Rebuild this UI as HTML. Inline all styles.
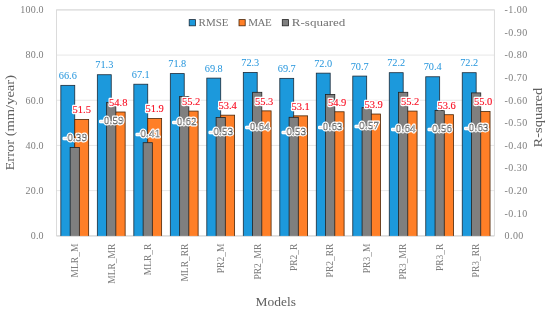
<!DOCTYPE html>
<html><head><meta charset="utf-8"><title>Model errors chart</title>
<style>html,body{margin:0;padding:0;background:#fff;}svg{display:block;}</style></head>
<body>
<svg width="550" height="311" viewBox="0 0 550 311" font-family='"Liberation Serif", "Noto Serif CJK SC", serif'>
<rect width="550" height="311" fill="#fff"/>
<line x1="56.50" y1="9.90" x2="494.40" y2="9.90" stroke="#e4e4e4" stroke-width="0.9"/>
<line x1="56.50" y1="55.08" x2="494.40" y2="55.08" stroke="#e4e4e4" stroke-width="0.9"/>
<line x1="56.50" y1="100.26" x2="494.40" y2="100.26" stroke="#e4e4e4" stroke-width="0.9"/>
<line x1="56.50" y1="145.44" x2="494.40" y2="145.44" stroke="#e4e4e4" stroke-width="0.9"/>
<line x1="56.50" y1="190.62" x2="494.40" y2="190.62" stroke="#e4e4e4" stroke-width="0.9"/>
<line x1="56.50" y1="235.80" x2="494.40" y2="235.80" stroke="#e4e4e4" stroke-width="0.9"/>
<rect x="56.50" y="9.90" width="437.90" height="225.90" fill="none" stroke="#d8d8d8" stroke-width="0.9"/>
<rect x="60.85" y="85.35" width="13.90" height="151.65" fill="#1c99dc" stroke="#1b2a38" stroke-width="0.8"/>
<rect x="74.75" y="119.46" width="13.90" height="117.54" fill="#ff7f27" stroke="#4a2608" stroke-width="0.8"/>
<rect x="97.34" y="74.73" width="13.90" height="162.27" fill="#1c99dc" stroke="#1b2a38" stroke-width="0.8"/>
<rect x="111.24" y="112.01" width="13.90" height="124.99" fill="#ff7f27" stroke="#4a2608" stroke-width="0.8"/>
<rect x="133.83" y="84.22" width="13.90" height="152.78" fill="#1c99dc" stroke="#1b2a38" stroke-width="0.8"/>
<rect x="147.73" y="118.56" width="13.90" height="118.44" fill="#ff7f27" stroke="#4a2608" stroke-width="0.8"/>
<rect x="170.32" y="73.60" width="13.90" height="163.40" fill="#1c99dc" stroke="#1b2a38" stroke-width="0.8"/>
<rect x="184.22" y="111.10" width="13.90" height="125.90" fill="#ff7f27" stroke="#4a2608" stroke-width="0.8"/>
<rect x="206.81" y="78.12" width="13.90" height="158.88" fill="#1c99dc" stroke="#1b2a38" stroke-width="0.8"/>
<rect x="220.71" y="115.17" width="13.90" height="121.83" fill="#ff7f27" stroke="#4a2608" stroke-width="0.8"/>
<rect x="243.30" y="72.47" width="13.90" height="164.53" fill="#1c99dc" stroke="#1b2a38" stroke-width="0.8"/>
<rect x="257.20" y="110.88" width="13.90" height="126.12" fill="#ff7f27" stroke="#4a2608" stroke-width="0.8"/>
<rect x="279.80" y="78.35" width="13.90" height="158.65" fill="#1c99dc" stroke="#1b2a38" stroke-width="0.8"/>
<rect x="293.70" y="115.85" width="13.90" height="121.15" fill="#ff7f27" stroke="#4a2608" stroke-width="0.8"/>
<rect x="316.29" y="73.15" width="13.90" height="163.85" fill="#1c99dc" stroke="#1b2a38" stroke-width="0.8"/>
<rect x="330.19" y="111.78" width="13.90" height="125.22" fill="#ff7f27" stroke="#4a2608" stroke-width="0.8"/>
<rect x="352.78" y="76.09" width="13.90" height="160.91" fill="#1c99dc" stroke="#1b2a38" stroke-width="0.8"/>
<rect x="366.68" y="114.04" width="13.90" height="122.96" fill="#ff7f27" stroke="#4a2608" stroke-width="0.8"/>
<rect x="389.27" y="72.70" width="13.90" height="164.30" fill="#1c99dc" stroke="#1b2a38" stroke-width="0.8"/>
<rect x="403.17" y="111.10" width="13.90" height="125.90" fill="#ff7f27" stroke="#4a2608" stroke-width="0.8"/>
<rect x="425.76" y="76.77" width="13.90" height="160.23" fill="#1c99dc" stroke="#1b2a38" stroke-width="0.8"/>
<rect x="439.66" y="114.72" width="13.90" height="122.28" fill="#ff7f27" stroke="#4a2608" stroke-width="0.8"/>
<rect x="462.25" y="72.70" width="13.90" height="164.30" fill="#1c99dc" stroke="#1b2a38" stroke-width="0.8"/>
<rect x="476.15" y="111.55" width="13.90" height="125.45" fill="#ff7f27" stroke="#4a2608" stroke-width="0.8"/>
<rect x="70.15" y="147.50" width="9.20" height="89.50" fill="#7f7f7f" stroke="#222" stroke-width="0.8"/>
<rect x="106.64" y="102.50" width="9.20" height="134.50" fill="#7f7f7f" stroke="#222" stroke-width="0.8"/>
<rect x="143.13" y="142.70" width="9.20" height="94.30" fill="#7f7f7f" stroke="#222" stroke-width="0.8"/>
<rect x="179.62" y="96.40" width="9.20" height="140.60" fill="#7f7f7f" stroke="#222" stroke-width="0.8"/>
<rect x="216.11" y="117.40" width="9.20" height="119.60" fill="#7f7f7f" stroke="#222" stroke-width="0.8"/>
<rect x="252.60" y="92.30" width="9.20" height="144.70" fill="#7f7f7f" stroke="#222" stroke-width="0.8"/>
<rect x="289.10" y="117.30" width="9.20" height="119.70" fill="#7f7f7f" stroke="#222" stroke-width="0.8"/>
<rect x="325.59" y="94.40" width="9.20" height="142.60" fill="#7f7f7f" stroke="#222" stroke-width="0.8"/>
<rect x="362.08" y="107.60" width="9.20" height="129.40" fill="#7f7f7f" stroke="#222" stroke-width="0.8"/>
<rect x="398.57" y="92.30" width="9.20" height="144.70" fill="#7f7f7f" stroke="#222" stroke-width="0.8"/>
<rect x="435.06" y="110.50" width="9.20" height="126.50" fill="#7f7f7f" stroke="#222" stroke-width="0.8"/>
<rect x="471.55" y="92.90" width="9.20" height="144.10" fill="#7f7f7f" stroke="#222" stroke-width="0.8"/>
<rect x="55.50" y="236.15" width="439.90" height="2" fill="#fff"/>
<line x1="56.50" y1="236.40" x2="494.40" y2="236.40" stroke="#dcdcdc" stroke-width="0.8"/>
<text x="43.8" y="13.30" font-size="10" fill="#7e7e7e" text-anchor="end" letter-spacing="0.2">100.0</text>
<text x="43.8" y="58.48" font-size="10" fill="#7e7e7e" text-anchor="end" letter-spacing="0.2">80.0</text>
<text x="43.8" y="103.66" font-size="10" fill="#7e7e7e" text-anchor="end" letter-spacing="0.2">60.0</text>
<text x="43.8" y="148.84" font-size="10" fill="#7e7e7e" text-anchor="end" letter-spacing="0.2">40.0</text>
<text x="43.8" y="194.02" font-size="10" fill="#7e7e7e" text-anchor="end" letter-spacing="0.2">20.0</text>
<text x="43.8" y="239.20" font-size="10" fill="#7e7e7e" text-anchor="end" letter-spacing="0.2">0.0</text>
<text x="504.5" y="13.30" font-size="10" fill="#7e7e7e" letter-spacing="0.45">-1.00</text>
<text x="504.5" y="35.89" font-size="10" fill="#7e7e7e" letter-spacing="0.45">-0.90</text>
<text x="504.5" y="58.48" font-size="10" fill="#7e7e7e" letter-spacing="0.45">-0.80</text>
<text x="504.5" y="81.07" font-size="10" fill="#7e7e7e" letter-spacing="0.45">-0.70</text>
<text x="504.5" y="103.66" font-size="10" fill="#7e7e7e" letter-spacing="0.45">-0.60</text>
<text x="504.5" y="126.25" font-size="10" fill="#7e7e7e" letter-spacing="0.45">-0.50</text>
<text x="504.5" y="148.84" font-size="10" fill="#7e7e7e" letter-spacing="0.45">-0.40</text>
<text x="504.5" y="171.43" font-size="10" fill="#7e7e7e" letter-spacing="0.45">-0.30</text>
<text x="504.5" y="194.02" font-size="10" fill="#7e7e7e" letter-spacing="0.45">-0.20</text>
<text x="504.5" y="216.61" font-size="10" fill="#7e7e7e" letter-spacing="0.45">-0.10</text>
<text x="504.5" y="239.20" font-size="10" fill="#7e7e7e" letter-spacing="0.45">0.00</text>
<text transform="translate(78.05,243.6) rotate(-90)" font-size="9.5" fill="#7e7e7e" text-anchor="end">MLR_M</text>
<text transform="translate(114.54,243.6) rotate(-90)" font-size="9.5" fill="#7e7e7e" text-anchor="end">MLR_MR</text>
<text transform="translate(151.03,243.6) rotate(-90)" font-size="9.5" fill="#7e7e7e" text-anchor="end">MLR_R</text>
<text transform="translate(187.52,243.6) rotate(-90)" font-size="9.5" fill="#7e7e7e" text-anchor="end">MLR_RR</text>
<text transform="translate(224.01,243.6) rotate(-90)" font-size="9.5" fill="#7e7e7e" text-anchor="end">PR2_M</text>
<text transform="translate(260.50,243.6) rotate(-90)" font-size="9.5" fill="#7e7e7e" text-anchor="end">PR2_MR</text>
<text transform="translate(297.00,243.6) rotate(-90)" font-size="9.5" fill="#7e7e7e" text-anchor="end">PR2_R</text>
<text transform="translate(333.49,243.6) rotate(-90)" font-size="9.5" fill="#7e7e7e" text-anchor="end">PR2_RR</text>
<text transform="translate(369.98,243.6) rotate(-90)" font-size="9.5" fill="#7e7e7e" text-anchor="end">PR3_M</text>
<text transform="translate(406.47,243.6) rotate(-90)" font-size="9.5" fill="#7e7e7e" text-anchor="end">PR3_MR</text>
<text transform="translate(442.96,243.6) rotate(-90)" font-size="9.5" fill="#7e7e7e" text-anchor="end">PR3_R</text>
<text transform="translate(479.45,243.6) rotate(-90)" font-size="9.5" fill="#7e7e7e" text-anchor="end">PR3_RR</text>
<text transform="translate(13.8,122.8) rotate(-90)" font-size="13.3" fill="#606060" text-anchor="middle" textLength="95.5" lengthAdjust="spacingAndGlyphs">Error (mm/year)</text>
<text transform="translate(542.0,117.6) rotate(-90)" font-size="13.3" fill="#606060" text-anchor="middle" textLength="59.6" lengthAdjust="spacingAndGlyphs">R-squared</text>
<text x="275.7" y="306.2" font-size="13.3" fill="#606060" text-anchor="middle" textLength="40.4" lengthAdjust="spacingAndGlyphs">Models</text>
<rect x="189.20" y="19.6" width="6.2" height="6.2" fill="#1c99dc" stroke="#1b2a38" stroke-width="0.8"/>
<text x="198.6" y="26.4" font-size="11" fill="#727272">RMSE</text>
<rect x="239.00" y="19.6" width="6.2" height="6.2" fill="#ff7f27" stroke="#4a2608" stroke-width="0.8"/>
<text x="248.3" y="26.4" font-size="11" fill="#727272" letter-spacing="-0.5">MAE</text>
<rect x="282.30" y="19.6" width="6.2" height="6.2" fill="#7f7f7f" stroke="#222" stroke-width="0.8"/>
<text x="291.8" y="26.4" font-size="11" fill="#727272" textLength="53.6" lengthAdjust="spacingAndGlyphs">R-squared</text>
<text x="67.80" y="78.95" font-size="10.3" fill="#2294dc" text-anchor="middle">66.6</text>
<text x="81.70" y="113.26" font-size="10.5" fill="#fff" stroke="#fff" stroke-width="2.6" stroke-linejoin="round" text-anchor="middle">51.5</text>
<text x="81.70" y="113.26" font-size="10.5" fill="#f80c20" stroke="#f80c20" stroke-width="0.12" text-anchor="middle">51.5</text>
<text x="104.29" y="68.33" font-size="10.3" fill="#2294dc" text-anchor="middle">71.3</text>
<text x="118.19" y="105.81" font-size="10.5" fill="#fff" stroke="#fff" stroke-width="2.6" stroke-linejoin="round" text-anchor="middle">54.8</text>
<text x="118.19" y="105.81" font-size="10.5" fill="#f80c20" stroke="#f80c20" stroke-width="0.12" text-anchor="middle">54.8</text>
<text x="140.78" y="77.82" font-size="10.3" fill="#2294dc" text-anchor="middle">67.1</text>
<text x="154.68" y="112.36" font-size="10.5" fill="#fff" stroke="#fff" stroke-width="2.6" stroke-linejoin="round" text-anchor="middle">51.9</text>
<text x="154.68" y="112.36" font-size="10.5" fill="#f80c20" stroke="#f80c20" stroke-width="0.12" text-anchor="middle">51.9</text>
<text x="177.27" y="67.20" font-size="10.3" fill="#2294dc" text-anchor="middle">71.8</text>
<text x="191.17" y="104.90" font-size="10.5" fill="#fff" stroke="#fff" stroke-width="2.6" stroke-linejoin="round" text-anchor="middle">55.2</text>
<text x="191.17" y="104.90" font-size="10.5" fill="#f80c20" stroke="#f80c20" stroke-width="0.12" text-anchor="middle">55.2</text>
<text x="213.76" y="71.72" font-size="10.3" fill="#2294dc" text-anchor="middle">69.8</text>
<text x="227.66" y="108.97" font-size="10.5" fill="#fff" stroke="#fff" stroke-width="2.6" stroke-linejoin="round" text-anchor="middle">53.4</text>
<text x="227.66" y="108.97" font-size="10.5" fill="#f80c20" stroke="#f80c20" stroke-width="0.12" text-anchor="middle">53.4</text>
<text x="250.25" y="66.07" font-size="10.3" fill="#2294dc" text-anchor="middle">72.3</text>
<text x="264.15" y="104.68" font-size="10.5" fill="#fff" stroke="#fff" stroke-width="2.6" stroke-linejoin="round" text-anchor="middle">55.3</text>
<text x="264.15" y="104.68" font-size="10.5" fill="#f80c20" stroke="#f80c20" stroke-width="0.12" text-anchor="middle">55.3</text>
<text x="286.75" y="71.95" font-size="10.3" fill="#2294dc" text-anchor="middle">69.7</text>
<text x="300.65" y="109.65" font-size="10.5" fill="#fff" stroke="#fff" stroke-width="2.6" stroke-linejoin="round" text-anchor="middle">53.1</text>
<text x="300.65" y="109.65" font-size="10.5" fill="#f80c20" stroke="#f80c20" stroke-width="0.12" text-anchor="middle">53.1</text>
<text x="323.24" y="66.75" font-size="10.3" fill="#2294dc" text-anchor="middle">72.0</text>
<text x="337.14" y="105.58" font-size="10.5" fill="#fff" stroke="#fff" stroke-width="2.6" stroke-linejoin="round" text-anchor="middle">54.9</text>
<text x="337.14" y="105.58" font-size="10.5" fill="#f80c20" stroke="#f80c20" stroke-width="0.12" text-anchor="middle">54.9</text>
<text x="359.73" y="69.69" font-size="10.3" fill="#2294dc" text-anchor="middle">70.7</text>
<text x="373.63" y="107.84" font-size="10.5" fill="#fff" stroke="#fff" stroke-width="2.6" stroke-linejoin="round" text-anchor="middle">53.9</text>
<text x="373.63" y="107.84" font-size="10.5" fill="#f80c20" stroke="#f80c20" stroke-width="0.12" text-anchor="middle">53.9</text>
<text x="396.22" y="66.30" font-size="10.3" fill="#2294dc" text-anchor="middle">72.2</text>
<text x="410.12" y="104.90" font-size="10.5" fill="#fff" stroke="#fff" stroke-width="2.6" stroke-linejoin="round" text-anchor="middle">55.2</text>
<text x="410.12" y="104.90" font-size="10.5" fill="#f80c20" stroke="#f80c20" stroke-width="0.12" text-anchor="middle">55.2</text>
<text x="432.71" y="70.37" font-size="10.3" fill="#2294dc" text-anchor="middle">70.4</text>
<text x="446.61" y="108.52" font-size="10.5" fill="#fff" stroke="#fff" stroke-width="2.6" stroke-linejoin="round" text-anchor="middle">53.6</text>
<text x="446.61" y="108.52" font-size="10.5" fill="#f80c20" stroke="#f80c20" stroke-width="0.12" text-anchor="middle">53.6</text>
<text x="469.20" y="66.30" font-size="10.3" fill="#2294dc" text-anchor="middle">72.2</text>
<text x="483.10" y="105.35" font-size="10.5" fill="#fff" stroke="#fff" stroke-width="2.6" stroke-linejoin="round" text-anchor="middle">55.0</text>
<text x="483.10" y="105.35" font-size="10.5" fill="#f80c20" stroke="#f80c20" stroke-width="0.12" text-anchor="middle">55.0</text>
<text x="75.45" y="140.90" font-size="10.7" fill="#fff" stroke="#fff" stroke-width="2.8" stroke-linejoin="round" text-anchor="middle" letter-spacing="0.3">-0.39</text>
<text x="75.45" y="140.90" font-size="10.7" fill="#f0f0f0" stroke="#505050" stroke-width="0.38" stroke-linejoin="round" text-anchor="middle" letter-spacing="0.3"><tspan fill="#fff" stroke="#e8e0e0">-</tspan>0.39</text>
<text x="111.94" y="124.10" font-size="10.7" fill="#fff" stroke="#fff" stroke-width="2.8" stroke-linejoin="round" text-anchor="middle" letter-spacing="0.3">-0.59</text>
<text x="111.94" y="124.10" font-size="10.7" fill="#f0f0f0" stroke="#505050" stroke-width="0.38" stroke-linejoin="round" text-anchor="middle" letter-spacing="0.3"><tspan fill="#fff" stroke="#e8e0e0">-</tspan>0.59</text>
<text x="148.43" y="136.80" font-size="10.7" fill="#fff" stroke="#fff" stroke-width="2.8" stroke-linejoin="round" text-anchor="middle" letter-spacing="0.3">-0.41</text>
<text x="148.43" y="136.80" font-size="10.7" fill="#f0f0f0" stroke="#505050" stroke-width="0.38" stroke-linejoin="round" text-anchor="middle" letter-spacing="0.3"><tspan fill="#fff" stroke="#e8e0e0">-</tspan>0.41</text>
<text x="184.92" y="124.60" font-size="10.7" fill="#fff" stroke="#fff" stroke-width="2.8" stroke-linejoin="round" text-anchor="middle" letter-spacing="0.3">-0.62</text>
<text x="184.92" y="124.60" font-size="10.7" fill="#f0f0f0" stroke="#505050" stroke-width="0.38" stroke-linejoin="round" text-anchor="middle" letter-spacing="0.3"><tspan fill="#fff" stroke="#e8e0e0">-</tspan>0.62</text>
<text x="221.41" y="135.00" font-size="10.7" fill="#fff" stroke="#fff" stroke-width="2.8" stroke-linejoin="round" text-anchor="middle" letter-spacing="0.3">-0.53</text>
<text x="221.41" y="135.00" font-size="10.7" fill="#f0f0f0" stroke="#505050" stroke-width="0.38" stroke-linejoin="round" text-anchor="middle" letter-spacing="0.3"><tspan fill="#fff" stroke="#e8e0e0">-</tspan>0.53</text>
<text x="257.90" y="129.60" font-size="10.7" fill="#fff" stroke="#fff" stroke-width="2.8" stroke-linejoin="round" text-anchor="middle" letter-spacing="0.3">-0.64</text>
<text x="257.90" y="129.60" font-size="10.7" fill="#f0f0f0" stroke="#505050" stroke-width="0.38" stroke-linejoin="round" text-anchor="middle" letter-spacing="0.3"><tspan fill="#fff" stroke="#e8e0e0">-</tspan>0.64</text>
<text x="294.40" y="135.00" font-size="10.7" fill="#fff" stroke="#fff" stroke-width="2.8" stroke-linejoin="round" text-anchor="middle" letter-spacing="0.3">-0.53</text>
<text x="294.40" y="135.00" font-size="10.7" fill="#f0f0f0" stroke="#505050" stroke-width="0.38" stroke-linejoin="round" text-anchor="middle" letter-spacing="0.3"><tspan fill="#fff" stroke="#e8e0e0">-</tspan>0.53</text>
<text x="330.89" y="130.10" font-size="10.7" fill="#fff" stroke="#fff" stroke-width="2.8" stroke-linejoin="round" text-anchor="middle" letter-spacing="0.3">-0.63</text>
<text x="330.89" y="130.10" font-size="10.7" fill="#f0f0f0" stroke="#505050" stroke-width="0.38" stroke-linejoin="round" text-anchor="middle" letter-spacing="0.3"><tspan fill="#fff" stroke="#e8e0e0">-</tspan>0.63</text>
<text x="367.38" y="129.20" font-size="10.7" fill="#fff" stroke="#fff" stroke-width="2.8" stroke-linejoin="round" text-anchor="middle" letter-spacing="0.3">-0.57</text>
<text x="367.38" y="129.20" font-size="10.7" fill="#f0f0f0" stroke="#505050" stroke-width="0.38" stroke-linejoin="round" text-anchor="middle" letter-spacing="0.3"><tspan fill="#fff" stroke="#e8e0e0">-</tspan>0.57</text>
<text x="403.87" y="132.40" font-size="10.7" fill="#fff" stroke="#fff" stroke-width="2.8" stroke-linejoin="round" text-anchor="middle" letter-spacing="0.3">-0.64</text>
<text x="403.87" y="132.40" font-size="10.7" fill="#f0f0f0" stroke="#505050" stroke-width="0.38" stroke-linejoin="round" text-anchor="middle" letter-spacing="0.3"><tspan fill="#fff" stroke="#e8e0e0">-</tspan>0.64</text>
<text x="440.36" y="132.20" font-size="10.7" fill="#fff" stroke="#fff" stroke-width="2.8" stroke-linejoin="round" text-anchor="middle" letter-spacing="0.3">-0.56</text>
<text x="440.36" y="132.20" font-size="10.7" fill="#f0f0f0" stroke="#505050" stroke-width="0.38" stroke-linejoin="round" text-anchor="middle" letter-spacing="0.3"><tspan fill="#fff" stroke="#e8e0e0">-</tspan>0.56</text>
<text x="476.85" y="130.70" font-size="10.7" fill="#fff" stroke="#fff" stroke-width="2.8" stroke-linejoin="round" text-anchor="middle" letter-spacing="0.3">-0.63</text>
<text x="476.85" y="130.70" font-size="10.7" fill="#f0f0f0" stroke="#505050" stroke-width="0.38" stroke-linejoin="round" text-anchor="middle" letter-spacing="0.3"><tspan fill="#fff" stroke="#e8e0e0">-</tspan>0.63</text>
</svg>
</body></html>
